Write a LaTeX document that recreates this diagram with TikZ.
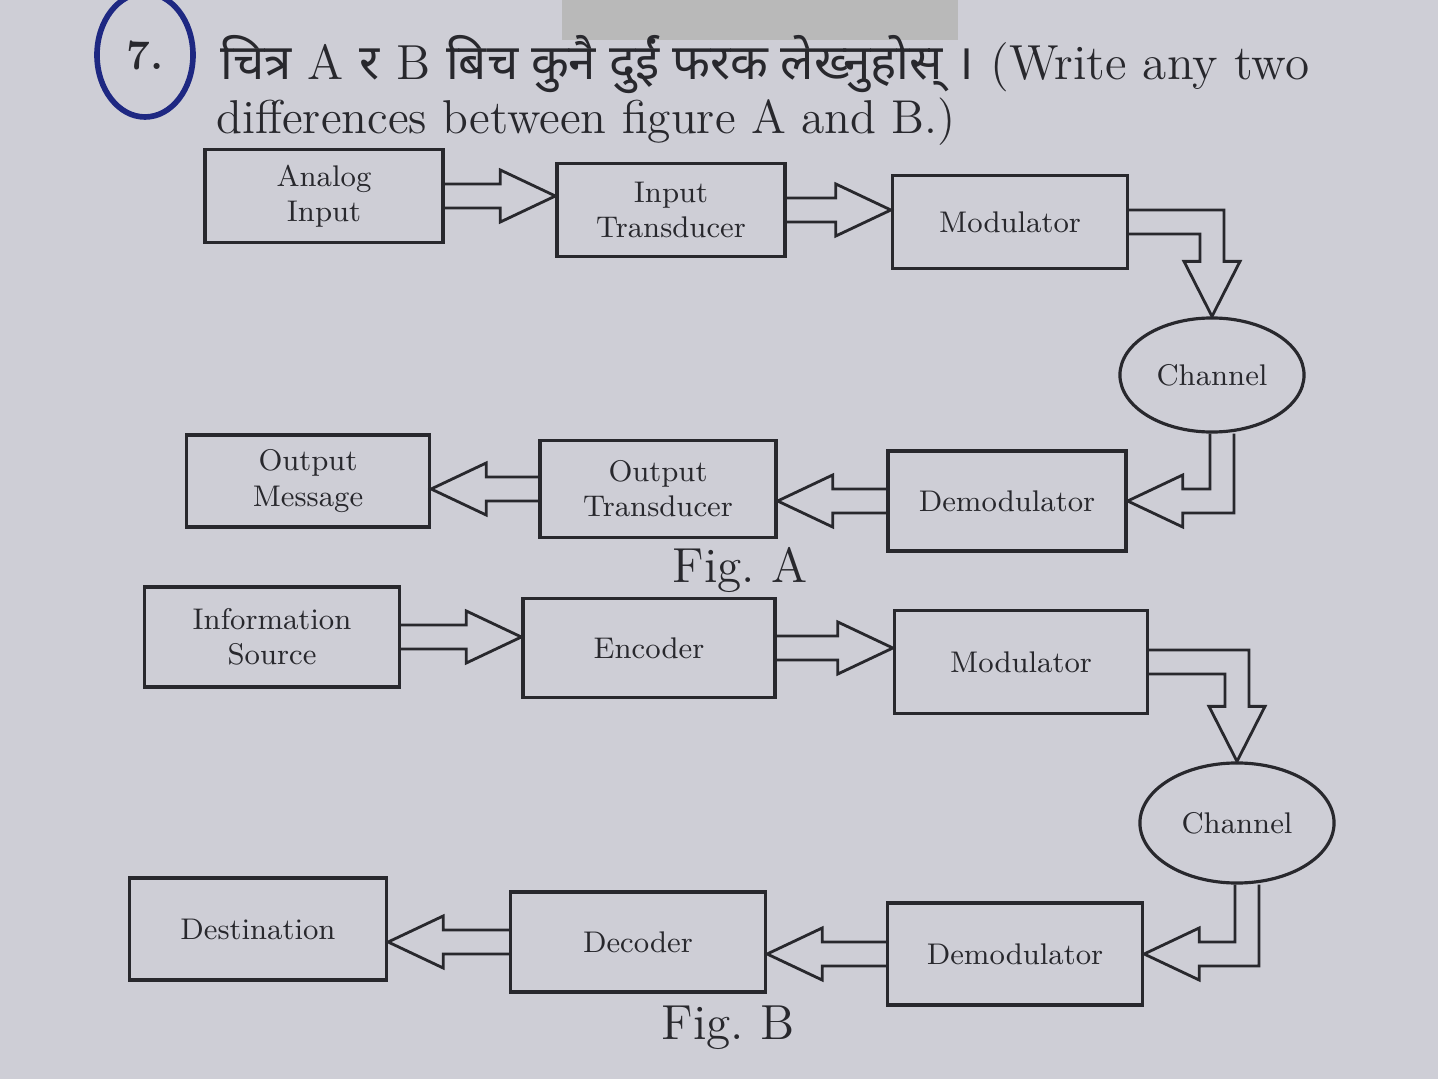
\documentclass[tikz,border=0pt]{standalone}
\usepackage{fontspec}
\newfontfamily\deva[Script=Devanagari]{Noto Sans}
\usetikzlibrary{calc,shapes.geometric}
\frenchspacing
\definecolor{paper}{RGB}{206,206,214}
\definecolor{ink}{RGB}{40,40,45}
\definecolor{pen}{RGB}{30,40,130}
\tikzset{
 box/.style={draw=ink,line width=0.9pt,align=center,font=\fontsize{8.5}{10}\selectfont,text=ink,inner sep=0pt},
 chan/.style={draw=ink,line width=0.9pt,ellipse,font=\fontsize{8.5}{10}\selectfont,text=ink,inner sep=0pt},
 hol/.style={draw=ink,line width=0.8pt,line join=miter},
 figlab/.style={font=\fontsize{14}{16}\selectfont,text=ink}
}
\newcommand\rarrow[2]{\draw[hol] let \p1=(#1.east),\p2=(#2.west) in
 (\x1,\y1+0.12cm) -- (\x2-0.55cm,\y1+0.12cm) -- (\x2-0.55cm,\y1+0.26cm) -- (\x2,\y1)
 -- (\x2-0.55cm,\y1-0.26cm) -- (\x2-0.55cm,\y1-0.12cm) -- (\x1,\y1-0.12cm);}
\newcommand\larrow[2]{\draw[hol] let \p1=(#1.west),\p2=(#2.east) in
 (\x1,\y1+0.12cm) -- (\x2+0.55cm,\y1+0.12cm) -- (\x2+0.55cm,\y1+0.26cm) -- (\x2,\y1)
 -- (\x2+0.55cm,\y1-0.26cm) -- (\x2+0.55cm,\y1-0.12cm) -- (\x1,\y1-0.12cm);}
\newcommand\darrow[2]{\draw[hol] let \p1=(#1.east),\p2=(#2.north) in
 (\x1,\y1+0.12cm) -- (\x2+0.12cm,\y1+0.12cm) -- (\x2+0.12cm,\y2+0.55cm) -- (\x2+0.28cm,\y2+0.55cm)
 -- (\x2,\y2) -- (\x2-0.28cm,\y2+0.55cm) -- (\x2-0.12cm,\y2+0.55cm) -- (\x2-0.12cm,\y1-0.12cm) -- (\x1,\y1-0.12cm);}
\newcommand\barrow[2]{\draw[hol] let \p1=(#1.south),\p2=(#2.east) in
 (\x1-0.02cm,\y1) -- (\x1-0.02cm,\y2+0.12cm) -- (\x2+0.55cm,\y2+0.12cm) -- (\x2+0.55cm,\y2+0.26cm)
 -- (\x2,\y2) -- (\x2+0.55cm,\y2-0.26cm) -- (\x2+0.55cm,\y2-0.12cm) -- (\x1+0.22cm,\y2-0.12cm) -- (\x1+0.22cm,\y1);}
\begin{document}
\begin{tikzpicture}[x=0.01cm,y=-0.01cm]
\fill[paper] (0,0) rectangle (1438,1079);
\useasboundingbox (0,0) rectangle (1438,1079);
\fill[gray!55] (562,0) rectangle (958,40);
% header
\node[font=\fontsize{12}{14}\selectfont\bfseries,text=ink] (num) at (145,55) {7.};
\draw[pen,line width=1.6pt] (num) ellipse [x radius=48,y radius=62];
\node[anchor=west,text=ink,font=\fontsize{14}{17}\selectfont] (t1) at (208,65)
 {{\deva चित्र}\ A\ {\deva र}\ B\ {\deva बिच\ कुनै\ दुईं\ फरक\ लेख्नुहोस्\ ।} (Write\ any\ two};
\node[anchor=west,text=ink,font=\fontsize{13.5}{17}\selectfont] (t2) at (204,122)
 {differences between figure A and B.)};
% Fig A
\node[box,minimum width=2.38cm,minimum height=0.93cm] (ai) at (324,196) {Analog\\Input};
\node[box,minimum width=2.28cm,minimum height=0.93cm] (it) at (671,210) {Input\\Transducer};
\node[box,minimum width=2.35cm,minimum height=0.93cm] (mo) at (1010,222) {Modulator};
\node[chan,minimum width=1.84cm,minimum height=1.14cm] (ch) at (1212,375) {Channel};
\node[box,minimum width=2.38cm,minimum height=1.00cm] (dm) at (1007,501) {Demodulator};
\node[box,minimum width=2.36cm,minimum height=0.97cm] (ot) at (658,489) {Output\\Transducer};
\node[box,minimum width=2.43cm,minimum height=0.92cm] (om) at (308,481) {Output\\Message};
\node[figlab] (fa) at (740,570) {Fig. A};
\rarrow{ai}{it}
\rarrow{it}{mo}
\darrow{mo}{ch}
\barrow{ch}{dm}
\larrow{dm}{ot}
\larrow{ot}{om}
% Fig B
\node[box,minimum width=2.55cm,minimum height=1.00cm] (is) at (272,637) {Information\\Source};
\node[box,minimum width=2.52cm,minimum height=0.99cm] (en) at (649,648) {Encoder};
\node[box,minimum width=2.53cm,minimum height=1.03cm] (mb) at (1021,662) {Modulator};
\node[chan,minimum width=1.94cm,minimum height=1.20cm] (cb) at (1237,823) {Channel};
\node[box,minimum width=2.55cm,minimum height=1.02cm] (db) at (1015,954) {Demodulator};
\node[box,minimum width=2.55cm,minimum height=1.00cm] (dc) at (638,942) {Decoder};
\node[box,minimum width=2.57cm,minimum height=1.02cm] (ds) at (258,929) {Destination};
\node[figlab] (fb) at (728,1028) {Fig. B};
\rarrow{is}{en}
\rarrow{en}{mb}
\darrow{mb}{cb}
\barrow{cb}{db}
\larrow{db}{dc}
\larrow{dc}{ds}
\end{tikzpicture}
\end{document}
